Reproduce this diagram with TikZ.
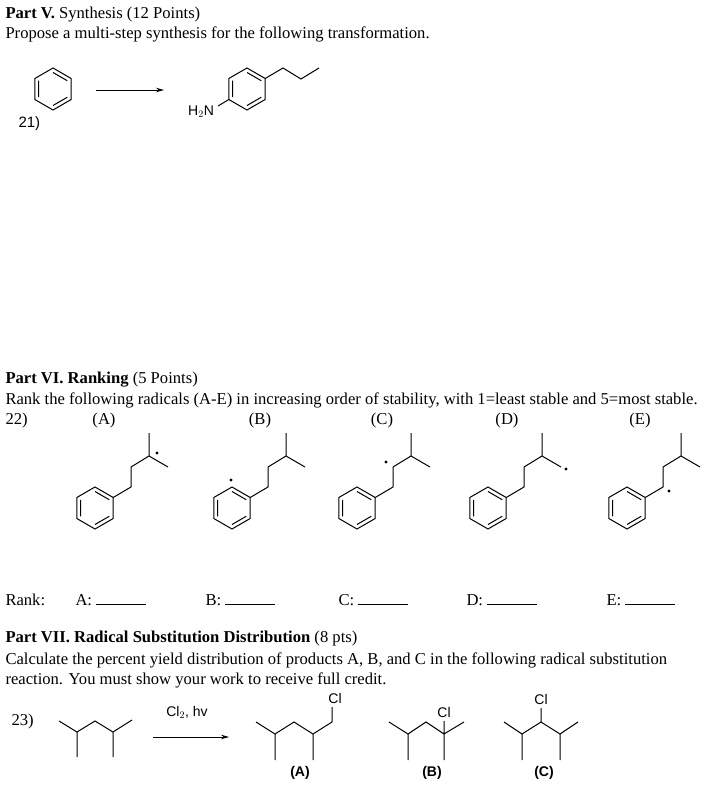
\documentclass[tikz,border=0pt]{standalone}
\usepackage{fontspec}
\setmainfont{Liberation Serif}
\newfontfamily\arial{Liberation Sans}
\usetikzlibrary{arrows.meta}
\newcommand\benzring[2]{%
 \begin{scope}[shift={(#1,#2)}]
 \draw (30:21)--(90:21)--(150:21)--(210:21)--(270:21)--(330:21)--cycle;
 \draw (150:16.5)--(210:16.5) (270:16.5)--(330:16.5) (30:16.5)--(90:16.5);
 \end{scope}}
\newcommand\radchain[1]{% ring center x; ring at y=508
 \benzring{#1}{508}
 \draw (#1+18.2,497.5)--(#1+36,487)--(#1+36,467)--(#1+54,456)--(#1+54,433);
 \draw (#1+54,456)--(#1+73,467);}
\begin{document}
\begin{tikzpicture}[x=1pt,y=-1pt,line width=1pt,
 txt/.style={anchor=base west,inner sep=0pt,font=\fontsize{16.6}{18}\selectfont},
 sans/.style={inner sep=0pt,font=\arial\fontsize{14}{16}\selectfont},
 lbl/.style={inner sep=0pt,font=\arial\bfseries\fontsize{14}{16}\selectfont},
 arr/.style={-{Stealth[length=8pt,width=4.5pt]},line width=0.9pt},
 rad/.style={fill,circle,inner sep=0pt,minimum size=3.2pt}]
\useasboundingbox[fill=white] (0,0) rectangle (705,786);
% Part V
\node[txt] (p5) at (5,19) {\textbf{Part V.} Synthesis (12 Points)};
\node[txt] (p5b) at (5,39) {Propose a multi-step synthesis for the following transformation.};
\node[sans,anchor=base west,font=\arial\fontsize{15}{17}\selectfont] (n21) at (18,128) {21)};
\benzring{53}{89}
\coordinate (a1) at (96,90); \coordinate (a2) at (164,90);
\draw[arr] (a1)--(a2);
\benzring{247}{89}
\draw (265.2,78.5)--(283,68)--(301,79)--(319,68);
\node[sans] (nh2) at (201,112) {H$_2$N};
\draw (228.8,99.5)--(218,106);
% Part VI
\node[txt] (p6) at (5,383) {\textbf{Part VI. Ranking} (5 Points)};
\node[txt] (p6b) at (5,404) {Rank the following radicals (A-E) in increasing order of stability, with 1=least stable and 5=most stable.};
\node[txt] (n22) at (5,424) {22)};
\foreach \l/\x in {A/104,B/260,C/382,D/507,E/640}{\node[txt,anchor=base] (L\l) at (\x,424) {(\l)};}
\radchain{95}
\node[rad] (dA) at (157,453) {};
\radchain{232}
\node[rad] (dB) at (231,480) {};
\radchain{357}
\node[rad] (dC) at (386,462) {};
\radchain{488}
\node[rad] (dD) at (566,469) {};
\radchain{627}
\node[rad] (dE) at (669,491) {};
\node[txt] (rk) at (5,605) {Rank:};
\foreach \l/\x in {A/75,B/205,C/338,D/466,E/606}{\node[txt] (R\l) at (\x,605) {\l:~\rule{50pt}{0.6pt}};}
% Part VII
\node[txt] (p7) at (5,642) {\textbf{Part VII. Radical Substitution Distribution} (8 pts)};
\node[txt] (p7b) at (5,664) {Calculate the percent yield distribution of products A, B, and C in the following radical substitution};
\node[txt] (p7c) at (5,684) {reaction. You must show your work to receive full credit.};
\node[txt] (n23) at (11,725) {23)};
\draw (59,721)--(77,732)--(95,721)--(113,732)--(132,720) (77,732)--(77,757) (113,732)--(113,757);
\coordinate (b1) at (153,737); \coordinate (b2) at (229,737);
\draw[arr] (b1)--(b2);
\node[sans] (cl2) at (187,712) {Cl$_2$, hv};
% A
\draw (256,722)--(275,734)--(294,722)--(313,734)--(332,722)--(332,707) (275,734)--(275,760) (313,734)--(313,760);
\node[sans] (clA) at (335,698) {Cl};
% B
\draw (389,722)--(408,734)--(426,722)--(444,734)--(464,722) (408,734)--(408,760) (444,734)--(444,760) (444,734)--(444,721);
\node[sans] (clB) at (444,712) {Cl};
% C
\draw (504,722)--(522,734)--(541,722)--(560,734)--(578,722) (522,734)--(522,760) (560,734)--(560,760) (541,722)--(541,708);
\node[sans] (clC) at (541,699) {Cl};
\node[lbl] (lA) at (300,773) {(A)};
\node[lbl] (lB) at (432,773) {(B)};
\node[lbl] (lC) at (544,773) {(C)};
\end{tikzpicture}
\end{document}
